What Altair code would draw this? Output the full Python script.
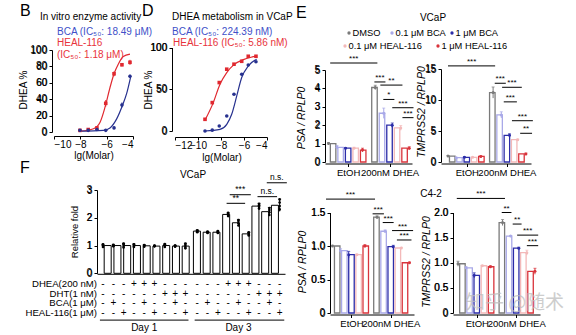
import altair as alt
import pandas as pd

FONT = "Liberation Sans"
CJK = "Noto Sans CJK SC"
W, H = 576, 335

# ---------------- data ----------------
# Panel B: in vitro enzyme activity (lg concentration, DHEA %)
b_logc = [-8.03, -7.40, -6.74, -6.07, -5.44, -4.84, -4.23]
b_heal = [2, 3, 5, 35, 71, 82, 85]
b_heal_err = [1.5, 1.5, 2, 4, 3, 2, 3]
b_bca = [2, 2, 3, 2, 5, 33, 68]
b_bca_err = [1.5, 1.5, 1.5, 1.5, 1.5, 3, 2]
b_fit_heal_x = [-8.0, -7.0, -6.5, -6.13, -5.75, -5.44, -5.11, -4.74, -4.23]
b_fit_heal_y = [1, 4, 12, 30, 54, 71, 83, 92, 95]
b_fit_bca_x = [-8.0, -6.26, -5.75, -5.24, -4.81, -4.48, -4.18]
b_fit_bca_y = [1, 2, 5, 16, 32, 47, 67]
b_yticks = [0, 20, 40, 60, 80, 100]
b_xticks = [-10, -8, -6, -4]

# Panel D: DHEA metabolism in VCaP
d_logc = [-9.39, -8.76, -8.15, -7.50, -6.87, -6.20, -5.63, -4.96]
d_heal = [14, 34, 58, 74, 80, 83.5, 89.5, 89.5]
d_bca = [0, 1, 6, 18, 44, 68, 79, 83]
d_fit_heal_x = [-9.39, -8.67, -8.09, -7.5, -6.87, -6.06, -5.19, -4.9]
d_fit_heal_y = [13, 34, 56, 70, 79.5, 85.5, 89, 90]
d_fit_bca_x = [-9.39, -8.09, -7.5, -7.07, -6.63, -6.2, -5.62, -4.9]
d_fit_bca_y = [0, 2, 8, 20, 42, 64, 78, 86]
d_yticks = [0, 50, 100]
d_xticks = [-12, -10, -8, -6, -4]

# Panel E
treatments = ["DMSO", "0.1 μM BCA", "1 μM BCA", "0.1 μM HEAL-116", "1 μM HEAL-116"]
groups = ["EtOH", "200nM DHEA"]

vcap_psa_etoh = [1.0, 0.8, 0.75, 0.75, 0.65]
vcap_psa_etoh_err = [0.06, 0.1, 0.04, 0.05, 0.1]
vcap_psa_dhea = [4.05, 2.65, 2.0, 1.85, 0.75]
vcap_psa_dhea_err = [0.12, 0.28, 0.12, 0.13, 0.08]

vcap_tmp_etoh = [0.95, 0.7, 0.75, 0.75, 0.9]
vcap_tmp_etoh_err = [0.1, 0.05, 0.1, 0.05, 0.1]
vcap_tmp_dhea = [11.2, 7.6, 4.3, 3.6, 1.3]
vcap_tmp_dhea_err = [0.9, 0.5, 0.25, 0.1, 0.15]

c42_psa_etoh = [1.0, 0.93, 0.87, 0.87, 1.0]
c42_psa_etoh_err = [0.01, 0.03, 0.05, 0.01, 0.02]
c42_psa_dhea = [1.43, 1.22, 0.99, 0.97, 0.75]
c42_psa_dhea_err = [0.02, 0.02, 0.02, 0.01, 0.01]

c42_tmp_etoh = [0.98, 0.9, 0.75, 0.94, 0.92]
c42_tmp_etoh_err = [0.05, 0.02, 0.05, 0.01, 0.02]
c42_tmp_dhea = [1.8, 1.53, 1.29, 1.2, 0.83]
c42_tmp_dhea_err = [0.06, 0.01, 0.02, 0.05, 0.06]

# significance brackets: (start, end in bar slots, height, label)
vcap_psa_sig = [(0.2, 5.75, 5.38, "***"), (5.4, 6.7, 4.35, "***"), (6.1, 8.7, 4.18, "**"),
                (6.45, 7.75, 3.4, "*"), (7.5, 10.0, 2.95, "***"), (8.7, 10.0, 2.41, "***")]
vcap_tmp_sig = [(0.0, 5.75, 15.5, "***"), (5.7, 7.05, 12.7, "***"), (6.6, 9.0, 12.05, "***"),
                (6.8, 8.4, 9.7, "***"), (7.8, 10.35, 6.66, "***"), (8.8, 10.25, 4.63, "**")]
c42_psa_sig = [(-0.8, 5.25, 1.70, "***"), (4.95, 6.35, 1.48, "***"), (6.2, 7.55, 1.35, "***"),
               (7.35, 9.95, 1.23, "***"), (7.95, 9.75, 1.09, "***")]
c42_tmp_sig = [(-0.15, 5.8, 2.28, "***"), (5.4, 6.6, 2.0, "**"), (6.75, 7.85, 1.77, "**"),
               (7.3, 9.9, 1.55, "***"), (8.5, 9.9, 1.34, "***")]

# Panel F
f_mean = [1.0, 1.0, 1.0, 1.0, 0.99, 0.98, 1.0, 0.98, 0.98,
          1.52, 1.48, 1.48, 2.12, 1.82, 1.42, 2.42, 2.22, 2.45]
f_err = [0.05, 0.04, 0.08, 0.06, 0.04, 0.02, 0.06, 0.03, 0.1,
         0.04, 0.03, 0.04, 0.06, 0.12, 0.06, 0.1, 0.15, 0.22]
f_reps = [[0.95, 1.0, 1.04, 1.02], [0.97, 1.0, 1.03, 1.0], [0.93, 0.98, 1.05, 1.07],
          [0.95, 0.98, 1.03, 1.04], [0.96, 0.99, 1.02, 1.0], [0.97, 0.98, 0.99, 1.0],
          [0.95, 0.99, 1.03, 1.05], [0.96, 0.98, 1.0, 0.99], [0.9, 0.95, 1.02, 1.07],
          [1.48, 1.52, 1.55, 1.5], [1.45, 1.48, 1.5, 1.47], [1.45, 1.47, 1.5, 1.52],
          [2.06, 2.1, 2.15, 2.18], [1.72, 1.8, 1.88, 1.92], [1.36, 1.4, 1.45, 1.48],
          [2.33, 2.4, 2.45, 2.5], [2.1, 2.2, 2.28, 2.35], [2.3, 2.42, 2.55, 2.66]]
f_yticks = [0, 1, 2, 3]
f_days = ["Day 1", "Day 3"]
f_rows = ["DHEA(200 nM)", "DHT(1 nM)", "BCA(1 μM)", "HEAL-116(1 μM)"]
f_dhea = ["-", "-", "-", "+", "+", "+", "-", "-", "-"] * 2
f_dht = ["-", "-", "-", "-", "-", "-", "+", "+", "+"] * 2
f_bca = ["-", "+", "-", "-", "+", "-", "-", "+", "-"] * 2
f_heal = ["-", "-", "+", "-", "-", "+", "-", "-", "+"] * 2
# significance: (start, end in bar slots, height, label)
f_sig = [(12.0, 13.8, 2.52, "**"), (12.3, 14.35, 2.83, "***"),
         (15.0, 16.9, 2.76, "n.s."), (15.9, 17.85, 3.26, "n.s.")]

# ---------------- styles ----------------
TXT_BLUE = "#4150c8"
TXT_RED = "#e8333b"
PT_BLUE = "#27318f"
PT_RED = "#e0282f"
treat_colors = ["#7a7a7a", "#a9a9e8", "#2b2ca8", "#f3b9b9", "#d9333b"]

layers = []


def label(text, x, y, size=10, color="black", align="left", weight="normal",
          font=FONT, angle=0, style="normal", opacity=1.0):
    return alt.Chart(pd.DataFrame({"t": [text]})).mark_text(
        align=align, baseline="middle", fontSize=size, font=font, color=color,
        fontWeight=weight, angle=angle, fontStyle=style, opacity=opacity
    ).encode(x=alt.value(x), y=alt.value(y), text="t:N")


def yaxis(x, values, decimals=False):
    kw = dict(orient="left", offset=-x, values=values, title=None, labels=True,
              labelOverlap=False, labelFontSize=10, labelPadding=2, labelAlign="right",
              labelBaseline="middle", labelColor="black")
    if decimals:
        kw["labelExpr"] = "datum.value == 0 ? '0' : format(datum.value, '.1f')"
    else:
        kw["format"] = "d"
    return alt.Axis(**kw)


def tick_labels(values, texts, axis_x, ybase, ytop, vmax):
    # same text, same place as the axis labels (keeps the tick labels visible in every renderer)
    out = []
    for v, t in zip(values, texts):
        y = ybase + (ytop - ybase) * v / vmax
        out.append(label(t, axis_x - 5, y, align="right"))
    return out


def dose_panel(logc, heal, heal_err, bca, bca_err, fhx, fhy, fbx, fby, xticks, yticks, L):
    xs = alt.Scale(domain=L["xdom"], range=L["xrng"], nice=False, zero=False)
    ys = alt.Scale(domain=[0, 100], range=L["yrng"], nice=False, zero=False)
    cs = alt.Scale(domain=["HEAL-116", "BCA"], range=[PT_RED, PT_BLUE])
    n = len(logc)
    pts = pd.DataFrame({"c": logc * 2, "v": heal + bca,
                        "e": (heal_err + bca_err) if heal_err else [1.2] * (2 * n),
                        "s": ["HEAL-116"] * n + ["BCA"] * n})
    pts["lo"] = pts["v"] - pts["e"]
    pts["hi"] = pts["v"] + pts["e"]
    fit = pd.DataFrame({"c": fhx + fbx, "v": fhy + fby,
                        "s": ["HEAL-116"] * len(fhx) + ["BCA"] * len(fbx)})
    line = alt.Chart(fit).mark_line(strokeWidth=1.2, interpolate="monotone").encode(
        x=alt.X("c:Q", scale=xs, axis=alt.Axis(
            orient="bottom", offset=L["xaxis_y"] - H, values=xticks, title=None,
            labelOverlap=False, labelPadding=0, labelFontSize=10)),
        y=alt.Y("v:Q", scale=ys, axis=yaxis(L["yaxis_x"], yticks)),
        color=alt.Color("s:N", scale=cs, legend=None))
    err = alt.Chart(pts).mark_rule(strokeWidth=1).encode(
        x=alt.X("c:Q", scale=xs, axis=None),
        y=alt.Y("lo:Q", scale=ys, axis=None), y2="hi:Q",
        color=alt.Color("s:N", scale=cs, legend=None))
    dots = alt.Chart(pts).mark_point(filled=True, size=13, opacity=1).encode(
        x=alt.X("c:Q", scale=xs, axis=None),
        y=alt.Y("v:Q", scale=ys, axis=None),
        color=alt.Color("s:N", scale=cs, legend=None),
        shape=alt.Shape("s:N", scale=alt.Scale(domain=["HEAL-116", "BCA"], range=["square", "circle"]), legend=None))
    return ([line, err, dots,
             label("lg(Molar)", L["xtitle"][0], L["xtitle"][1], align="center"),
             label("DHEA %", L["ytitle"][0], L["ytitle"][1], align="center", angle=270)]
            + tick_labels(yticks, [f"{v:d}" for v in yticks], L["yaxis_x"], L["yrng"][0], L["yrng"][1], 100))


GSTEP = 5.5  # slot of the second group's first bar


def bar_panel(etoh, etoh_err, dhea, dhea_err, sig, L):
    pos = [t + g * GSTEP for g in range(2) for t in range(5)]
    df = pd.DataFrame({"t": treatments * 2, "pos": pos,
                       "v": etoh + dhea, "e": etoh_err + dhea_err})
    df["lo"] = df["v"] - df["e"]
    df["hi"] = df["v"] + df["e"]
    x_origin = (L["yaxis_x"] - L["x0"]) / L["unit"]
    xs = alt.Scale(domain=[x_origin, (L["xend"] - L["x0"]) / L["unit"]],
                   range=[L["yaxis_x"], L["xend"]], nice=False, zero=False)
    ys = alt.Scale(domain=[0, L["ymax"]], range=[L["ybase"], L["ytop"]], nice=False, zero=False)
    cs = alt.Scale(domain=treatments, range=treat_colors)
    bars = alt.Chart(df).mark_bar(size=L["bw"], fill="white", strokeWidth=1.3, orient="vertical").encode(
        x=alt.X("pos:Q", scale=xs, axis=alt.Axis(
            orient="bottom", offset=L["xaxis_y"] - H, values=[2, 2 + GSTEP], labelOverlap=False,
            labelExpr="datum.value < 5 ? 'EtOH' : '200nM DHEA'", title=None, labelPadding=1,
            labelFontSize=9.5)),
        y=alt.Y("v:Q", scale=ys, axis=yaxis(L["yaxis_x"], L["yticks"], L["dec"])),
        stroke=alt.Stroke("t:N", scale=cs, legend=None))
    err = alt.Chart(df).mark_rule(strokeWidth=1).encode(
        x=alt.X("pos:Q", scale=xs, axis=None), y=alt.Y("lo:Q", scale=ys, axis=None), y2="hi:Q",
        color=alt.Color("t:N", scale=cs, legend=None))
    cap = alt.Chart(df).mark_tick(orient="horizontal", size=3, thickness=1).encode(
        x=alt.X("pos:Q", scale=xs, axis=None), y=alt.Y("hi:Q", scale=ys, axis=None),
        color=alt.Color("t:N", scale=cs, legend=None))
    dots = alt.Chart(df).mark_circle(size=9, opacity=1).encode(
        x=alt.X("pos:Q", scale=xs, axis=None), y=alt.Y("v:Q", scale=ys, axis=None),
        color=alt.Color("t:N", scale=cs, legend=None))
    sdf = pd.DataFrame({"x1": [a for a, b, h, s in sig], "x2": [b for a, b, h, s in sig],
                        "h": [h for a, b, h, s in sig], "s": [s for a, b, h, s in sig]})
    sdf["xm"] = (sdf["x1"] + sdf["x2"]) / 2
    srule = alt.Chart(sdf).mark_rule(strokeWidth=1, color="black").encode(
        x=alt.X("x1:Q", scale=xs, axis=None), x2="x2:Q", y=alt.Y("h:Q", scale=ys, axis=None))
    stext = alt.Chart(sdf).mark_text(fontSize=8, font=FONT, baseline="bottom", dy=0).encode(
        x=alt.X("xm:Q", scale=xs, axis=None), y=alt.Y("h:Q", scale=ys, axis=None), text="s:N")
    title = label(L["ytitle"], L["tpos"][0], L["tpos"][1], size=10.5, align="center",
                  angle=270, style="italic")
    texts = [L["fmt"](v) for v in L["yticks"]]
    return ([bars, err, cap, dots, srule, stext, title]
            + tick_labels(L["yticks"], texts, L["yaxis_x"], L["ybase"], L["ytop"], L["ymax"]))


fmt_int = lambda v: f"{v:g}"
fmt_dec = lambda v: "0" if v == 0 else f"{v:.1f}"

# ---------------- panel B ----------------
LB = dict(xdom=[-10, -4], xrng=[54, 133], yrng=[132, 50], xaxis_y=136, yaxis_x=52,
          xtitle=(94, 156), ytitle=(24, 90))
layers += dose_panel(b_logc, b_heal, b_heal_err, b_bca, b_bca_err,
                     b_fit_heal_x, b_fit_heal_y, b_fit_bca_x, b_fit_bca_y, b_xticks, b_yticks, LB)
layers += [label("B", 20, 11, size=16),
           label("In vitro enzyme activity", 40, 17),
           label("BCA (IC₅₀: 18.49 μM)", 57, 32, color=TXT_BLUE),
           label("HEAL-116", 57, 43, color=TXT_RED),
           label("(IC₅₀: 1.18 μM)", 57, 55, color=TXT_RED)]

# ---------------- panel D ----------------
LD = dict(xdom=[-12, -4], xrng=[175, 267], yrng=[131, 47.5], xaxis_y=137, yaxis_x=172,
          xtitle=(222, 158), ytitle=(149, 90))
layers += dose_panel(d_logc, d_heal, [], d_bca, [],
                     d_fit_heal_x, d_fit_heal_y, d_fit_bca_x, d_fit_bca_y, d_xticks, d_yticks, LD)
layers += [label("D", 142, 11, size=16),
           label("DHEA metabolism in VCaP", 172, 17),
           label("BCA (IC₅₀: 224.39 nM)", 172, 32, color=TXT_BLUE),
           label("HEAL-116 (IC₅₀: 5.86 nM)", 173, 43, color=TXT_RED)]

# ---------------- panel E ----------------
L1 = dict(yaxis_x=325, x0=328.5, unit=8.5, xend=412, ybase=162, ytop=70, ymax=5,
          yticks=[0, 1, 2, 3, 4, 5], fmt=fmt_int, dec=False, xaxis_y=163.5, bw=5.5,
          ytitle="PSA / RPLP0", tpos=(302, 118))
L2 = dict(yaxis_x=441, x0=448, unit=8.2, xend=531, ybase=162, ytop=69, ymax=15,
          yticks=[0, 5, 10, 15], fmt=fmt_int, dec=False, xaxis_y=163.5, bw=5.5,
          ytitle="TMPRSS2 / RPLP0", tpos=(422, 112))
L3 = dict(yaxis_x=330, x0=332.5, unit=8.1, xend=414, ybase=313, ytop=212.5, ymax=1.5,
          yticks=[0, 0.5, 1.0, 1.5], fmt=fmt_dec, dec=True, xaxis_y=314.5, bw=5.5,
          ytitle="PSA / RPLP0", tpos=(303, 262))
L4 = dict(yaxis_x=453, x0=458, unit=8.1, xend=540, ybase=313, ytop=212.5, ymax=2.0,
          yticks=[0, 0.5, 1.0, 1.5, 2.0], fmt=fmt_dec, dec=True, xaxis_y=314.5, bw=5.5,
          ytitle="TMPRSS2 / RPLP0", tpos=(427, 262))
layers += bar_panel(vcap_psa_etoh, vcap_psa_etoh_err, vcap_psa_dhea, vcap_psa_dhea_err, vcap_psa_sig, L1)
layers += bar_panel(vcap_tmp_etoh, vcap_tmp_etoh_err, vcap_tmp_dhea, vcap_tmp_dhea_err, vcap_tmp_sig, L2)
layers += bar_panel(c42_psa_etoh, c42_psa_etoh_err, c42_psa_dhea, c42_psa_dhea_err, c42_psa_sig, L3)
layers += bar_panel(c42_tmp_etoh, c42_tmp_etoh_err, c42_tmp_dhea, c42_tmp_dhea_err, c42_tmp_sig, L4)

layers += [label("E", 296, 13, size=16),
           label("VCaP", 433, 18, align="center"),
           label("C4-2", 431, 194, align="center")]
# legend of panel E
leg_xy = [(349, 33), (392, 33), (452, 33), (345, 46), (438, 46)]
for name, col, (lx, ly) in zip(treatments, treat_colors, leg_xy):
    layers.append(alt.Chart(pd.DataFrame({"t": [name]})).mark_circle(size=11, opacity=1, color=col)
                  .encode(x=alt.value(lx), y=alt.value(ly)))
    layers.append(label(name, lx + 3.5, ly, size=9.3))

# ---------------- panel F ----------------
f_pos = [i + d * 9.15 for d in range(2) for i in range(9)]
f_origin = (97 - 103) / 10.3
fx = alt.Scale(domain=[f_origin, (285 - 103) / 10.3], range=[97, 285], nice=False, zero=False)
fy = alt.Scale(domain=[0, 3], range=[273.3, 190], nice=False, zero=False)
fdf = pd.DataFrame({"pos": f_pos, "v": f_mean, "e": f_err})
fdf["lo"] = fdf["v"] - fdf["e"]
fdf["hi"] = fdf["v"] + fdf["e"]
rep = pd.DataFrame({"pos": [p for p, r in zip(f_pos, f_reps) for _ in r],
                    "v": [v for r in f_reps for v in r]})
layers.append(alt.Chart(fdf).mark_bar(size=7, fill="white", stroke="black", strokeWidth=1, orient="vertical").encode(
    x=alt.X("pos:Q", scale=fx, axis=alt.Axis(orient="bottom", offset=273.8 - H, ticks=False, labels=False, title=None)),
    y=alt.Y("v:Q", scale=fy, axis=yaxis(97, f_yticks))))
layers += tick_labels(f_yticks, [fmt_int(v) for v in f_yticks], 97, 273.3, 190, 3)
layers.append(alt.Chart(fdf).mark_rule(strokeWidth=1, color="black").encode(
    x=alt.X("pos:Q", scale=fx, axis=None), y=alt.Y("lo:Q", scale=fy, axis=None), y2="hi:Q"))
layers.append(alt.Chart(fdf).mark_tick(orient="horizontal", size=3, thickness=1, color="black").encode(
    x=alt.X("pos:Q", scale=fx, axis=None), y=alt.Y("hi:Q", scale=fy, axis=None)))
layers.append(alt.Chart(rep).mark_circle(size=7, opacity=1, color="black").encode(
    x=alt.X("pos:Q", scale=fx, axis=None), y=alt.Y("v:Q", scale=fy, axis=None)))
fs = pd.DataFrame({"x1": [a for a, b, h, s in f_sig], "x2": [b for a, b, h, s in f_sig],
                   "h": [h for a, b, h, s in f_sig], "s": [s for a, b, h, s in f_sig]})
fs["xm"] = (fs["x1"] + fs["x2"]) / 2
layers.append(alt.Chart(fs).mark_rule(strokeWidth=1, color="black").encode(
    x=alt.X("x1:Q", scale=fx, axis=None), x2="x2:Q", y=alt.Y("h:Q", scale=fy, axis=None)))
layers.append(alt.Chart(fs).mark_text(fontSize=8.5, font=FONT, baseline="bottom", dy=-0.5).encode(
    x=alt.X("xm:Q", scale=fx, axis=None), y=alt.Y("h:Q", scale=fy, axis=None), text="s:N"))
layers.append(label("Relative fold", 75, 232, size=9.5, align="center", angle=270))

# sign table
ty = alt.Scale(domain=[0, 3], range=[284, 312.5], nice=False, zero=False)
signs = pd.DataFrame({"pos": f_pos * 4,
                      "row": [0] * 18 + [1] * 18 + [2] * 18 + [3] * 18,
                      "s": f_dhea + f_dht + f_bca + f_heal})
layers.append(alt.Chart(signs).mark_text(fontSize=10, font=FONT, baseline="middle").encode(
    x=alt.X("pos:Q", scale=fx, axis=None), y=alt.Y("row:Q", scale=ty, axis=None), text="s:N"))
rowlab = pd.DataFrame({"row": [0, 1, 2, 3], "s": f_rows})
layers.append(alt.Chart(rowlab).mark_text(fontSize=9.6, font=FONT, baseline="middle", align="right").encode(
    x=alt.value(97), y=alt.Y("row:Q", scale=ty, axis=None), text="s:N"))
days = pd.DataFrame({"d": f_days, "x1": [f_pos[0] - 0.3, f_pos[9] - 0.25],
                     "x2": [f_pos[8] + 0.3, f_pos[17] + 0.45],
                     "xm": [(f_pos[0] + f_pos[8]) / 2, (f_pos[9] + f_pos[17]) / 2],
                     "ly": [3.8, 3.8], "ty": [4.6, 4.6]})
layers.append(alt.Chart(days).mark_rule(strokeWidth=1, color="black").encode(
    x=alt.X("x1:Q", scale=fx, axis=None), x2="x2:Q", y=alt.Y("ly:Q", scale=ty, axis=None)))
layers.append(alt.Chart(days).mark_text(fontSize=10, font=FONT, baseline="middle").encode(
    x=alt.X("xm:Q", scale=fx, axis=None), y=alt.Y("ty:Q", scale=ty, axis=None), text="d:N"))
layers += [label("F", 20, 168, size=16), label("VCaP", 193, 175, align="center")]

# watermark
layers.append(label("知乎 @随术", 515, 303, size=19, font=CJK, color="#bdbdbd", align="center", opacity=0.75))

chart = alt.layer(*layers).properties(
    width=W, height=H, autosize=alt.AutoSizeParams(type="none"), padding=0
).resolve_scale(
    x="independent", y="independent", color="independent", stroke="independent", shape="independent"
).configure_view(strokeWidth=0).configure_axis(
    labelFont=FONT, titleFont=FONT, labelFontSize=10, titleFontSize=10, titleFontWeight="normal",
    tickSize=3, tickColor="black", domainColor="black", labelColor="black", titleColor="black",
    grid=False, domainWidth=1, tickWidth=1, labelPadding=2
)

chart.save("out.html", embed_options={"renderer": "svg", "actions": False})
